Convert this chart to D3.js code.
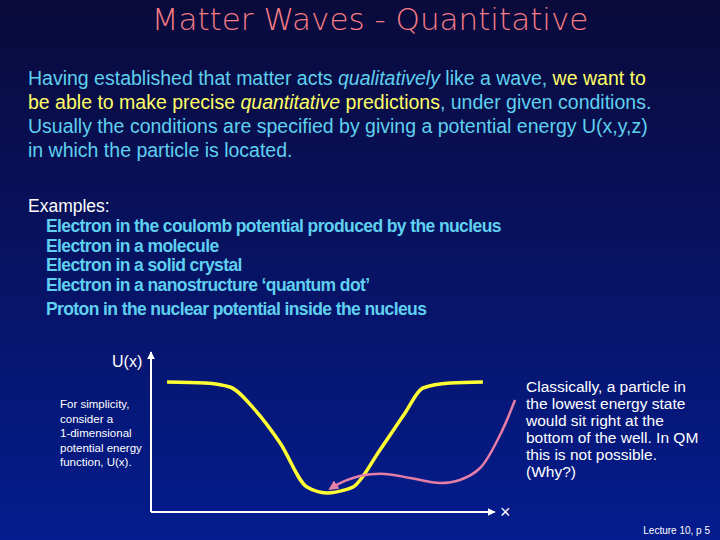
<!DOCTYPE html>
<html lang="en">
<head>
<meta charset="UTF-8">
<title>Matter Waves - Quantitative</title>
<script src="https://d3js.org/d3.v7.min.js"></script>
<style>
  body { margin: 0; }
  text { font-family: 'Liberation Sans', Arial, sans-serif; }
</style>
</head>
<body>
<svg width="720" height="540"></svg>
<script>
// potential well U(x), in axis units (0..100 each way)
const wellX = [4.6, 15.5, 22.6, 29.8, 37, 44.7, 50.4, 55.6, 57.9, 65.6, 72.8, 77.9, 85.7, 95.1];
const wellU = [81.3, 80.6, 78.1, 63.8, 43.1, 15.6, 11.9, 13.8, 15.6, 38.8, 61.9, 77.5, 80.6, 81.3];
// pink pointer arrow
const arrowX = [104.3, 100, 94.3, 88.5, 82.8, 74.2, 67, 59.9, 54.2, 51.3];
const arrowY = [70, 48.1, 27.5, 20, 18.1, 21.3, 23.8, 22.5, 18.1, 14.4];

const examples = [
  "Electron in the coulomb potential produced by the nucleus",
  "Electron in a molecule",
  "Electron in a solid crystal",
  "Electron in a nanostructure \u2018quantum dot\u2019"
];
const sideNote = ["For simplicity,", "consider a", "1-dimensional", "potential energy", "function, U(x)."];
const classical = ["Classically, a particle in", "the lowest energy state", "would sit right at the",
  "bottom of the well. In QM", "this is not possible.", "(Why?)"];

const svg = d3.select("svg");
const defs = svg.append("defs");
const grad = defs.append("linearGradient").attr("id", "bg").attr("x1", 0).attr("y1", 0).attr("x2", 0).attr("y2", 1);
grad.append("stop").attr("offset", "0%").attr("stop-color", "#0a0a3a");
grad.append("stop").attr("offset", "100%").attr("stop-color", "#041c8e");
svg.append("rect").attr("width", 720).attr("height", 540).attr("fill", "url(#bg)");

defs.append("marker").attr("id", "wh").attr("viewBox", "0 0 10 10").attr("refX", 9).attr("refY", 5)
  .attr("markerWidth", 4).attr("markerHeight", 4).attr("orient", "auto")
  .append("path").attr("d", "M0,0L10,5L0,10z").attr("fill", "white");
defs.append("marker").attr("id", "ph").attr("viewBox", "0 0 10 10").attr("refX", 8).attr("refY", 5)
  .attr("markerWidth", 4).attr("markerHeight", 4).attr("orient", "auto")
  .append("path").attr("d", "M0,0L10,5L0,10z").attr("fill", "#e57fa8");

const cyan = "#5fd0f0", yellow = "#ffff66";

svg.append("text").attr("x", 370).attr("y", 30).attr("text-anchor", "middle")
  .attr("fill", "#f47c86").attr("font-size", 31)
  .style("font-family", "'DejaVu Sans', sans-serif").style("font-weight", 300)
  .text("Matter Waves - Quantitative");

const para = svg.append("text").attr("font-size", 19.5).attr("fill", cyan);
const line = (y, parts) => {
  parts.forEach(([t, c, it], i) => {
    const s = para.append("tspan").text(t).attr("fill", c || cyan);
    if (i === 0) s.attr("x", 28).attr("y", y);
    if (it) s.attr("font-style", "italic");
  });
};
line(85, [["Having established that matter acts "], ["qualitatively", null, true], [" like a wave, "], ["we want to", yellow]]);
line(109, [["be able to make precise ", yellow], ["quantitative", yellow, true], [" predictions", yellow], [", under given conditions."]]);
line(133, [["Usually the conditions are specified by giving a potential energy U(x,y,z)"]]);
line(157, [["in which the particle is located."]]);

svg.append("text").attr("x", 28).attr("y", 212).attr("fill", "white").attr("font-size", 17.5).text("Examples:");
svg.selectAll("text.ex").data(examples).join("text").attr("class", "ex")
  .attr("x", 46).attr("y", (d, i) => 232 + i * 19.5).attr("fill", cyan).attr("font-size", 17.5)
  .style("font-weight", "bold").style("letter-spacing", "-0.6px").text(d => d);
svg.append("text").attr("x", 46).attr("y", 315).attr("fill", cyan).attr("font-size", 17.5)
  .style("font-weight", "bold").style("letter-spacing", "-0.6px")
  .text("Proton in the nuclear potential inside the nucleus");

// plot
const x = d3.scaleLinear().domain([0, 100]).range([151, 500]);
const y = d3.scaleLinear().domain([0, 100]).range([512, 352]);

svg.append("line").attr("x1", x(0)).attr("y1", y(0)).attr("x2", x(0)).attr("y2", y(100))
  .attr("stroke", "white").attr("stroke-width", 2).attr("marker-end", "url(#wh)");
svg.append("line").attr("x1", x(0)).attr("y1", y(0)).attr("x2", x(98.5)).attr("y2", y(0))
  .attr("stroke", "white").attr("stroke-width", 2).attr("marker-end", "url(#wh)");
svg.append("text").attr("x", 112).attr("y", 367).attr("fill", "white").attr("font-size", 16).text("U(x)");
svg.append("text").attr("x", 500).attr("y", 518).attr("fill", "white").attr("font-size", 18).text("\u00d7");

const smooth = d3.line().x(d => x(d[0])).y(d => y(d[1])).curve(d3.curveMonotoneX);
const lineGen = d3.line().x(d => x(d[0])).y(d => y(d[1])).curve(d3.curveCatmullRom);
svg.append("path").datum(d3.zip(wellX, wellU)).attr("d", smooth)
  .attr("fill", "none").attr("stroke", "#ffff33").attr("stroke-width", 3.5);
svg.append("path").datum(d3.zip(arrowX, arrowY)).attr("d", lineGen)
  .attr("fill", "none").attr("stroke", "#e57fa8").attr("stroke-width", 2.5).attr("marker-end", "url(#ph)");

svg.selectAll("text.side").data(sideNote).join("text").attr("class", "side")
  .attr("x", 60).attr("y", (d, i) => 408 + i * 14.5).attr("fill", "white").attr("font-size", 11.5).text(d => d);
svg.selectAll("text.cl").data(classical).join("text").attr("class", "cl")
  .attr("x", 526).attr("y", (d, i) => 392 + i * 17).attr("fill", "white").attr("font-size", 15.5).text(d => d);
svg.append("text").attr("x", 710).attr("y", 534).attr("text-anchor", "end").attr("fill", "white")
  .attr("font-size", 10).text("Lecture 10, p 5");
</script>
</body>
</html>
